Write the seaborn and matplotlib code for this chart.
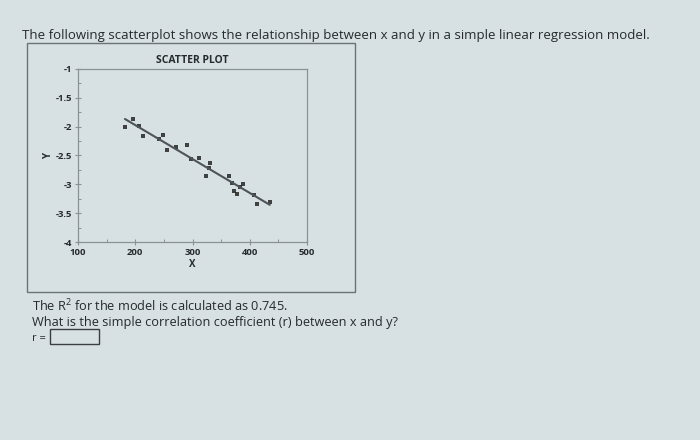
import matplotlib
matplotlib.use("Agg")
import matplotlib.pyplot as plt
from matplotlib.patches import Rectangle
from matplotlib.ticker import MultipleLocator
import seaborn as sns
import numpy as np
import pandas as pd

# ---- data ----
x_vals = [182, 196, 206, 214, 242, 249, 255, 271, 291, 298, 311, 330, 329, 323,
          364, 369, 372, 378, 383, 388, 407, 412, 435]
y_vals = [-2.01, -1.86, -1.99, -2.17, -2.21, -2.14, -2.40, -2.35, -2.32, -2.56,
          -2.54, -2.63, -2.71, -2.85, -2.85, -2.98, -3.12, -3.16, -3.04, -2.99,
          -3.18, -3.34, -3.30]
x_ticks = [100, 200, 300, 400, 500]
y_ticks = [-1, -1.5, -2, -2.5, -3, -3.5, -4]
y_tick_labels = ["-1", "-1.5", "-2", "-2.5", "-3", "-3.5", "-4"]

title = "SCATTER PLOT"
question_top = "The following scatterplot shows the relationship between x and y in a simple linear regression model."
line1 = "The R$^{\\mathregular{2}}$ for the model is calculated as 0.745."
line2 = "What is the simple correlation coefficient (r) between x and y?"
line3 = "r ="

df = pd.DataFrame({"X": x_vals, "Y": y_vals})

sns.set_theme(style="white")
plt.rcParams["font.family"] = ["Open Sans", "DejaVu Sans"]

W, H = 700, 440
BG = "#d7e0e3"
TXT = "#262a2c"
fig = plt.figure(figsize=(7, 4.4), dpi=100, facecolor=BG)

def fx(px):
    return px / W

def fy(py):
    return 1 - py / H

# outer frame around the chart
fig.patches.append(Rectangle((fx(27), fy(292)), fx(355) - fx(27), fy(43) - fy(292),
                             transform=fig.transFigure, fill=False,
                             edgecolor="#6b7377", linewidth=1.0))

ax = fig.add_axes([fx(78), fy(242), fx(307) - fx(78), fy(69) - fy(242)])
ax.set_facecolor(BG)

sns.regplot(data=df, x="X", y="Y", ax=ax, ci=None, marker="s",
            scatter_kws=dict(s=12, color="#1a1a1a", linewidths=0),
            line_kws=dict(color="#4e5457", linewidth=1.5))

ax.set_xlim(100, 500)
ax.set_ylim(-4, -1)
ax.set_xticks(x_ticks)
ax.set_xticklabels([str(t) for t in x_ticks])
ax.set_yticks(y_ticks)
ax.set_yticklabels(y_tick_labels)
ax.xaxis.set_minor_locator(MultipleLocator(50))
ax.yaxis.set_minor_locator(MultipleLocator(0.25))
for s in ax.spines.values():
    s.set_color("#8a9296")
    s.set_linewidth(0.9)
ax.tick_params(axis="both", which="major", length=5, width=0.8, color="#8a9296",
               labelsize=6.8, labelcolor=TXT, pad=2, direction="inout",
               bottom=True, left=True)
ax.tick_params(axis="both", which="minor", length=2, width=0.7, color="#8a9296",
               direction="in", bottom=True, left=True)
for lab in ax.get_xticklabels() + ax.get_yticklabels():
    lab.set_fontweight("bold")
ax.set_xlabel("X", fontsize=7, fontweight="bold", color=TXT, labelpad=1)
ax.set_ylabel("Y", fontsize=7, fontweight="bold", color=TXT, labelpad=1)
ax.set_title(title, fontsize=7.5, fontweight="bold", color=TXT, pad=4)

# texts
fig.text(fx(22), fy(36), question_top, fontsize=9.5, color=TXT, va="center", ha="left")
fig.text(fx(32), fy(306), line1, fontsize=9.2, color=TXT, va="center", ha="left")
fig.text(fx(32), fy(322), line2, fontsize=9.2, color=TXT, va="center", ha="left")
fig.text(fx(32), fy(338), line3, fontsize=8, color=TXT, va="center", ha="left")
fig.patches.append(Rectangle((fx(50), fy(344)), fx(99) - fx(50), fy(329) - fy(344),
                             transform=fig.transFigure, fill=False,
                             edgecolor="#3a3f42", linewidth=1.0))

fig.savefig("out.png", dpi=100, facecolor=BG)
